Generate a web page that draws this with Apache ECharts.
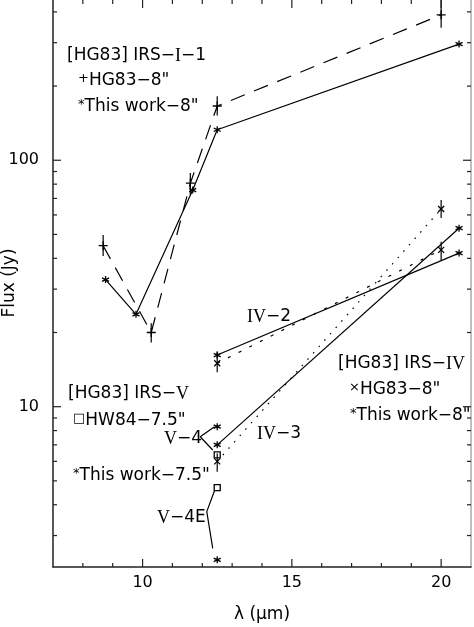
<!DOCTYPE html>
<html><head><meta charset="utf-8">
<script src="https://cdn.jsdelivr.net/npm/echarts@6/dist/echarts.min.js"></script>
<style>html,body{margin:0;padding:0;background:#fff}#c{width:474px;height:627px}</style>
</head><body><div id="c"></div>
<script>
// ---- axis ticks ----
const xTicksMajor = [10, 15, 20];
const xTicksMinor = [8, 9, 11, 12, 13, 14, 16, 17, 18, 19];
const yTicksMajor = [10, 100];
const yTicksMinor = [3, 4, 5, 6, 7, 8, 9, 20, 30, 40, 50, 60, 70, 80, 90, 200, 300, 400];
// ---- [HG83] IRS-I-1 ----
const i1Hg83 = [[8.68, 45.0], [10.29, 20.0], [11.6, 80.7], [12.5, 166], [20, 389]];
const i1Hg83Err = [[8.68, 40.9, 49.7], [10.29, 18.2, 21.8], [11.6, 72.2, 88.8], [12.5, 152, 182], [20, 345, 447]];
const i1This = [[8.76, 32.8], [9.78, 23.7], [11.68, 75.7], [12.5, 133], [20.6, 296]];
// ---- [HG83] IRS-IV ----
const iv2This = [[12.5, 16.2], [20.6, 42]];
const iv2Hg83 = [[12.5, 15.0], [20, 43.3]];
const iv3This = [[12.5, 7.0], [20.6, 53]];
const iv3Hg83 = [[12.5, 6.0], [20, 63.4]];
const ivHg83Err = [[12.5, 13.8, 16.7], [12.5, 5.45, 6.45], [20, 58.3, 68.9], [20, 39.2, 46.7]];
// ---- [HG83] IRS-V ----
const v4Hw84 = [[12.5, 6.37]];
const v4This = [[12.5, 8.3]];
const v4eHw84 = [[12.5, 4.69]];
const v4eThis = [[12.5, 2.39]];
// label pointer lines (data units)
const v4Pointer = [[12.41, 8.29], [11.93, 7.55], [12.35, 6.67]];
const v4ePointer = [[12.41, 4.56], [12.15, 3.75], [12.35, 2.66]];

const XMIN = 7, XMAX = 21, YMIN = 2.236, YMAX = 447;
const SANS = '"DejaVu Sans", sans-serif';
const SERIF = '"Liberation Serif", serif';
const SYM_AST = 'path://M5,0L5,10M0.67,2.5L9.33,7.5M0.67,7.5L9.33,2.5';
const SYM_PLUS = 'path://M0,5L10,5M5,0L5,10';
const SYM_X = 'path://M0,0L10,10M0,10L10,0';
const strokeSym = {color: 'transparent', borderColor: '#000', borderWidth: 1.3, opacity: 1};

function tickSeries(values, axis, len) {
  return {
    type: 'custom', silent: true, clip: false, z: 10, xAxisIndex: 0, yAxisIndex: 0,
    renderItem: function (params, api) {
      let a, b, sh;
      if (axis === 'x') {
        const v = api.value(0);
        a = api.coord([v, YMIN]); b = api.coord([v, YMAX]);
        sh = [[a[0], a[1], a[0], a[1] - len], [b[0], b[1], b[0], b[1] + len]];
      } else {
        const v = api.value(1);
        a = api.coord([XMIN, v]); b = api.coord([XMAX, v]);
        sh = [[a[0], a[1], a[0] + len, a[1]], [b[0], b[1], b[0] - len, b[1]]];
      }
      return {type: 'group', children: sh.map(s => ({
        type: 'line', shape: {x1: s[0], y1: s[1], x2: s[2], y2: s[3]},
        style: {stroke: '#222', lineWidth: 1.2}
      }))};
    },
    data: values.map(v => axis === 'x' ? [v, YMIN] : [XMIN, v])
  };
}
function errSeries(data) {
  return {
    type: 'custom', silent: true, z: 5,
    renderItem: function (params, api) {
      const lo = api.coord([api.value(0), api.value(1)]);
      const hi = api.coord([api.value(0), api.value(2)]);
      return {type: 'line', shape: {x1: lo[0], y1: lo[1], x2: hi[0], y2: hi[1]},
        style: {stroke: '#000', lineWidth: 1.2}};
    },
    encode: {x: 0, y: [1, 2]},
    data: data
  };
}
function lineSeries(data, type, sym, size) {
  return {
    type: 'line', data: data, silent: true, animation: false, z: 4,
    lineStyle: {color: '#000', width: 1.2, type: type},
    symbol: sym || 'none', symbolSize: size || 7, showSymbol: !!sym,
    itemStyle: strokeSym
  };
}
function pts(data, sym, size) {
  return {type: 'scatter', data: data, silent: true, symbol: sym, symbolSize: size,
    itemStyle: strokeSym, z: 6};
}
function txt(x, y, text, size, extra) {
  return Object.assign({
    type: 'text', x: x, y: y, silent: true,
    style: {
      text: text, fill: '#000', font: (size || 17) + 'px ' + SANS,
      verticalAlign: 'middle', align: 'left',
      rich: {
        a: {fontSize: size || 17, fontFamily: SANS, fill: '#000'},
        r: {fontSize: (size || 17) + 1, fontFamily: SERIF, fill: '#000'},
        s: {fontSize: 13, fontFamily: SANS, fill: '#000', verticalAlign: 'top'}
      }
    }
  }, extra || {});
}

const chart = echarts.init(document.getElementById('c'), null, {renderer: 'canvas'});
chart.setOption({
  animation: false,
  backgroundColor: '#fff',
  grid: {left: 53, right: 1, top: 0, bottom: 60},
  xAxis: [{
    type: 'value', min: XMIN, max: XMAX, interval: 1,
    axisLine: {show: true, lineStyle: {color: '#222', width: 1.5}},
    axisTick: {show: false}, splitLine: {show: false},
    axisLabel: {margin: 8, fontSize: 16, fontFamily: SANS, color: '#000',
      formatter: v => (xTicksMajor.indexOf(v) >= 0 ? String(v) : '')}
  }],
  yAxis: [{
    type: 'log', logBase: 10, min: YMIN, max: YMAX,
    axisLine: {show: true, lineStyle: {color: '#222', width: 1.5}},
    axisTick: {show: false}, splitLine: {show: false}, minorTick: {show: false},
    axisLabel: {margin: 14, fontSize: 16, fontFamily: SANS, color: '#000',
      showMinLabel: true, showMaxLabel: true,
      formatter: function (v) {
        for (const t of yTicksMajor) if (Math.abs(v - t) < 1e-6 * t) return String(t);
        return '';
      }}
  }, {
    type: 'log', logBase: 10, min: YMIN, max: YMAX, position: 'right',
    axisLine: {show: true, onZero: false, lineStyle: {color: '#aaa', width: 1.5}},
    axisTick: {show: false}, axisLabel: {show: false}, splitLine: {show: false}
  }],
  series: [
    tickSeries(xTicksMinor, 'x', 4),
    tickSeries(xTicksMajor, 'x', 8),
    tickSeries(yTicksMinor, 'y', 4),
    tickSeries(yTicksMajor, 'y', 8),
    lineSeries(i1Hg83, [15, 10], SYM_PLUS, 9),
    errSeries(i1Hg83Err),
    lineSeries(i1This, 'solid', SYM_AST, 7),
    lineSeries(iv2This, 'solid', SYM_AST, 7),
    lineSeries(iv2Hg83, [3, 9], SYM_X, 6),
    lineSeries(iv3This, 'solid', SYM_AST, 7),
    lineSeries(iv3Hg83, [1.5, 7], SYM_X, 6),
    errSeries(ivHg83Err),
    pts(v4Hw84, 'rect', 6),
    pts(v4This, SYM_AST, 7),
    pts(v4eHw84, 'rect', 6),
    pts(v4eThis, SYM_AST, 7),
    lineSeries(v4Pointer, 'solid'),
    lineSeries(v4ePointer, 'solid')
  ],
  graphic: [
    txt(67, 56, '{a|[HG83] IRS−}{r|I}{a|−1}'),
    txt(78, 81, '{s|+}{a|HG83−8"}'),
    txt(78, 107, '{s|*}{a|This work−8"}'),
    txt(247, 317, '{r|IV}{a|−2}'),
    txt(338, 364, '{a|[HG83] IRS−}{r|IV}'),
    txt(349, 390, '{s|×}{a|HG83−8"}'),
    txt(350, 416, '{s|*}{a|This work−8"}'),
    txt(257, 434, '{r|IV}{a|−3}'),
    txt(68, 394, '{a|[HG83] IRS−}{r|V}'),
    txt(73, 421, '{s|□}{a|HW84−7.5"}'),
    txt(73, 476, '{s|*}{a|This work−7.5"}'),
    txt(164, 439, '{r|V}{a|−4}'),
    txt(157, 518, '{r|V}{a|−4E}'),
    {type: 'text', x: 10, y: 283, rotation: Math.PI / 2, silent: true,
      style: {text: 'Flux (Jy)', font: '17px ' + SANS, fill: '#000', align: 'center', verticalAlign: 'middle'}},
    {type: 'text', x: 262, y: 615, silent: true,
      style: {text: 'λ (μm)', font: '17px ' + SANS, fill: '#000', align: 'center', verticalAlign: 'middle'}}
  ]
});
</script></body></html>
